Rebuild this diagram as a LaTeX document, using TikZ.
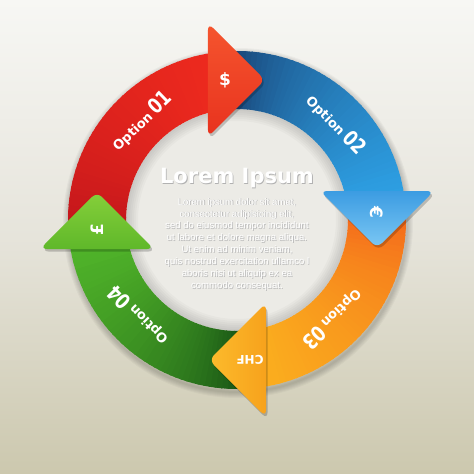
\documentclass[tikz,border=0pt]{standalone}
\usepackage{fontspec}
\setmainfont{Liberation Sans}
\newfontfamily\roundfont{DejaVu Sans}
\usetikzlibrary{positioning}

\definecolor{bgtop}{HTML}{F7F7F4}
\definecolor{bgmid}{HTML}{E6E4DB}
\definecolor{bgbot}{HTML}{CCC8AE}
\definecolor{disc}{HTML}{ECEBE6}
\definecolor{redA}{HTML}{B8111A}
\definecolor{redB}{HTML}{EE2A1E}
\definecolor{blueA}{HTML}{142E5C}
\definecolor{blueB}{HTML}{2EA2E6}
\definecolor{orangeA}{HTML}{F2561A}
\definecolor{orangeB}{HTML}{FBB01E}
\definecolor{greenA}{HTML}{0A3C10}
\definecolor{greenB}{HTML}{52B72A}
\definecolor{redH1}{HTML}{F5552E}
\definecolor{redH2}{HTML}{E8321E}
\definecolor{blueH1}{HTML}{3C9CE2}
\definecolor{blueH2}{HTML}{7CC8F4}
\definecolor{orangeH1}{HTML}{FCBB2C}
\definecolor{orangeH2}{HTML}{F7A21C}
\definecolor{greenH1}{HTML}{86CF3A}
\definecolor{greenH2}{HTML}{5FB82A}

\newcommand\loremtext{Lorem ipsum dolor sit amet,\\consectetur adipisicing elit,\\sed do eiusmod tempor incididunt\\ut labore et dolore magna aliqua.\\Ut enim ad minim veniam,\\quis nostrud exercitation ullamco l\\aboris nisi ut aliquip ex ea\\commodo consequat.}

\begin{document}
\begin{tikzpicture}[x=1pt, y=1pt,
        head/.style={rounded corners=7pt, preaction={fill=black, fill opacity=0.2, transform canvas={xshift=1.5pt, yshift=-2.5pt}}},
        option/.style={text=white, font=\roundfont\bfseries, inner sep=0pt},
        icon/.style={text=white, font=\roundfont\bfseries\fontsize{17}{17}\selectfont, inner sep=0pt},
        title/.style={text=white, font=\roundfont\bfseries\fontsize{21}{21}\selectfont, inner sep=0pt},
        para/.style={text=white, font=\fontsize{9.6}{11.9}\selectfont, align=center, inner sep=0pt}
    ]
        % Background
        \shade[top color=bgtop, bottom color=bgbot, middle color=bgmid] (-237,-254) rectangle (237,220);
        \useasboundingbox (-237,-254) rectangle (237,220);

        % Ring shadow and inner disc
        \foreach \w in {2,4,...,12}
            \draw[black, opacity=0.03, line width=\w pt] (1,-3) circle (169);
        \fill[disc] (0,0) circle (111);
        \begin{scope}
            \clip (0,0) circle (111);
            \foreach \w in {4,8,...,24}
                \draw[black, opacity=0.025, line width=\w pt] (0,0) circle (111);
        \end{scope}

        % Ring parts
        \foreach \s/\ca/\cb in {185/redA/redB, 95/blueA/blueB, 5/orangeA/orangeB, -85/greenA/greenB}
            \foreach \i in {0,...,44} {
                \pgfmathsetmacro\a{\s-2*\i}
                \pgfmathsetmacro\b{\a-2.6}
                \pgfmathtruncatemacro\p{100*sqrt(\i/44)}
                \fill[\cb!\p!\ca] (\a:111) arc[start angle=\a, end angle=\b, radius=111]
                    -- (\b:169) arc[start angle=\b, end angle=\a, radius=169] -- cycle;
            }

        % Arrow heads
        \path[head, top color=redH1, bottom color=redH2] (-29,83) -- (-29,197) -- (28,140) -- cycle;
        \path[head, top color=blueH1, bottom color=blueH2] (83,29) -- (197,29) -- (140,-28) -- cycle;
        \path[head, left color=orangeH1, right color=orangeH2] (29,-83) -- (29,-197) -- (-28,-140) -- cycle;
        \path[head, top color=greenH1, bottom color=greenH2] (-83,-29) -- (-197,-29) -- (-140,28) -- cycle;

        % Icons
        \node[icon] (dollar) at (-12,140) {\$};
        \node[icon, rotate=-90] (euro) at (140,8) {€};
        \node[icon, rotate=180, font=\roundfont\bfseries\fontsize{12}{12}\selectfont] (chf) at (13,-140) {CHF};
        \node[icon, rotate=90] (pound) at (-140,-10) {£};

        % Option labels
        \node[option, rotate=44] (opt1) at (134:138) {{\fontsize{13}{13}\selectfont Option} \scalebox{0.8}[1]{\fontsize{21}{21}\selectfont 01}};
        \node[option, rotate=-46] (opt2) at (44:138) {{\fontsize{13}{13}\selectfont Option} \scalebox{0.8}[1]{\fontsize{21}{21}\selectfont 02}};
        \node[option, rotate=-136] (opt3) at (-46:138) {{\fontsize{13}{13}\selectfont Option} \scalebox{0.8}[1]{\fontsize{21}{21}\selectfont 03}};
        \node[option, rotate=134] (opt4) at (-136:138) {{\fontsize{13}{13}\selectfont Option} \scalebox{0.8}[1]{\fontsize{21}{21}\selectfont 04}};

        % Center text
        \node[title, text=black!30] (titleshadow) at (0.8,41.2) {Lorem Ipsum};
        \node[title] (title) at (0,42) {Lorem Ipsum};
        \node[para, text=black!28, below=10pt of titleshadow] (parashadow) {\loremtext};
        \node[para, below=10pt of title] (para) {\loremtext};

    \end{tikzpicture}
\end{document}
